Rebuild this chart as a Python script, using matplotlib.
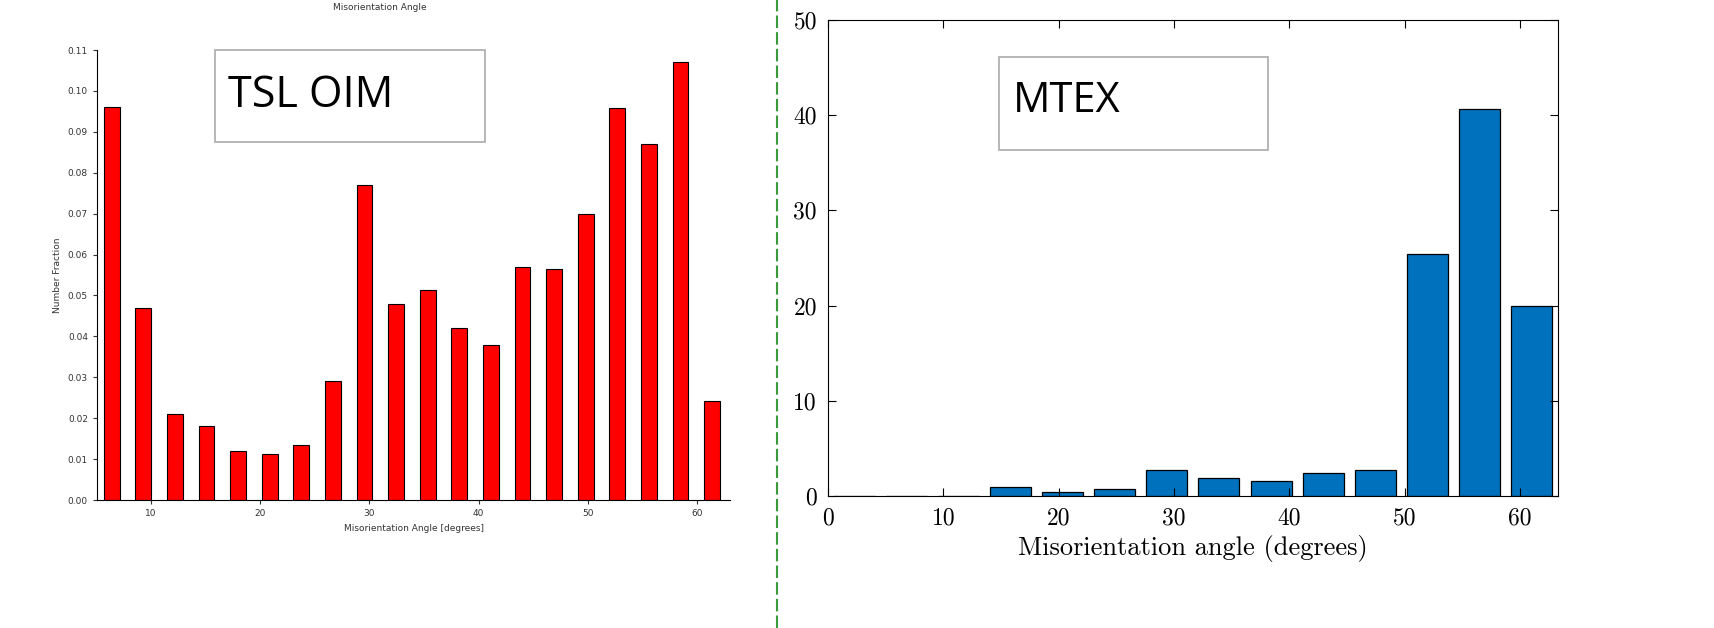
import matplotlib
matplotlib.use("Agg")
import matplotlib.pyplot as plt
from matplotlib.patches import Rectangle
import numpy as np

# Left chart (TSL OIM)
tsl_centers = [6.45 + 2.89 * i for i in range(20)]
tsl_values = [0.096, 0.047, 0.021, 0.018, 0.012, 0.0113, 0.0135, 0.029, 0.077, 0.048,
              0.0513, 0.042, 0.038, 0.057, 0.0565, 0.070, 0.0958, 0.087, 0.107, 0.0243]
tsl_yticks = [0.00, 0.01, 0.02, 0.03, 0.04, 0.05, 0.06, 0.07, 0.08, 0.09, 0.10, 0.11]
tsl_xticks = [10, 20, 30, 40, 50, 60]

# Right chart (MTEX)
mtex_centers = [2.26 + 4.52 * i for i in range(14)]
mtex_values = [0, 0, 0, 0.9, 0.4, 0.7, 2.7, 1.9, 1.6, 2.4, 2.7, 25.4, 40.6, 20.0]
mtex_yticks = [0, 10, 20, 30, 40, 50]
mtex_xticks = [0, 10, 20, 30, 40, 50, 60]

W, H = 1714, 628
fig = plt.figure(figsize=(17.14, 6.28), dpi=100)

def box(x0, y0, x1, y1):
    fig.add_artist(Rectangle((x0/W, 1-y1/H), (x1-x0)/W, (y1-y0)/H, transform=fig.transFigure,
                             facecolor="white", edgecolor="#aaaaaa", lw=1.2, zorder=5))

# ---- left
ax1 = fig.add_axes([97/W, 1-500/H, (730-97)/W, (500-50)/H])
ax1.bar(tsl_centers, tsl_values, width=1.45, color="#ff0000", edgecolor="black", linewidth=0.8)
ax1.set_xlim(5.1, 63.0)
ax1.set_ylim(0, 0.11)
ax1.set_yticks(tsl_yticks)
ax1.set_yticklabels([f"{v:.2f}" for v in tsl_yticks])
ax1.set_xticks(tsl_xticks)
ax1.tick_params(labelsize=6.5, colors="#333333", length=3)
ax1.spines["top"].set_visible(False)
ax1.spines["right"].set_visible(False)
ax1.set_ylabel("Number Fraction", fontsize=6.5, color="#333333")
ax1.set_xlabel("Misorientation Angle [degrees]", fontsize=6.5, color="#333333")
fig.text(380/W, 1-8/H, "Misorientation Angle", fontsize=6.5, color="#333333", ha="center", va="center")
box(215, 50, 485, 142)
fig.text(228/W, 1-96/H, "TSL OIM", fontsize=31, family="Open Sans", va="center", ha="left", zorder=6)

# divider
fig.add_artist(plt.Line2D([777/W, 777/W], [0, 1], color="#3a9a3a", lw=1.5, ls=(0, (6, 2))))

# ---- right
ax2 = fig.add_axes([828/W, 1-496/H, (1558-828)/W, (496-20)/H])
ax2.bar(mtex_centers, mtex_values, width=3.55, color="#0072BD", edgecolor="black", linewidth=0.9)
ax2.set_xlim(0, 63.3)
ax2.set_ylim(0, 50)
ax2.set_yticks(mtex_yticks)
ax2.set_xticks(mtex_xticks)
ax2.tick_params(direction="in", top=True, right=True, labelsize=17, length=6, pad=8)
for lab in ax2.get_xticklabels() + ax2.get_yticklabels():
    lab.set_family("cmr10")
ax2.set_xlabel("Misorientation angle (degrees)", fontsize=19, family="cmr10", labelpad=4)
box(999, 57, 1268, 150)
fig.text(1013/W, 1-101/H, "MTEX", fontsize=30, family="Open Sans", va="center", ha="left", zorder=6)

fig.savefig("out.png", dpi=100)
